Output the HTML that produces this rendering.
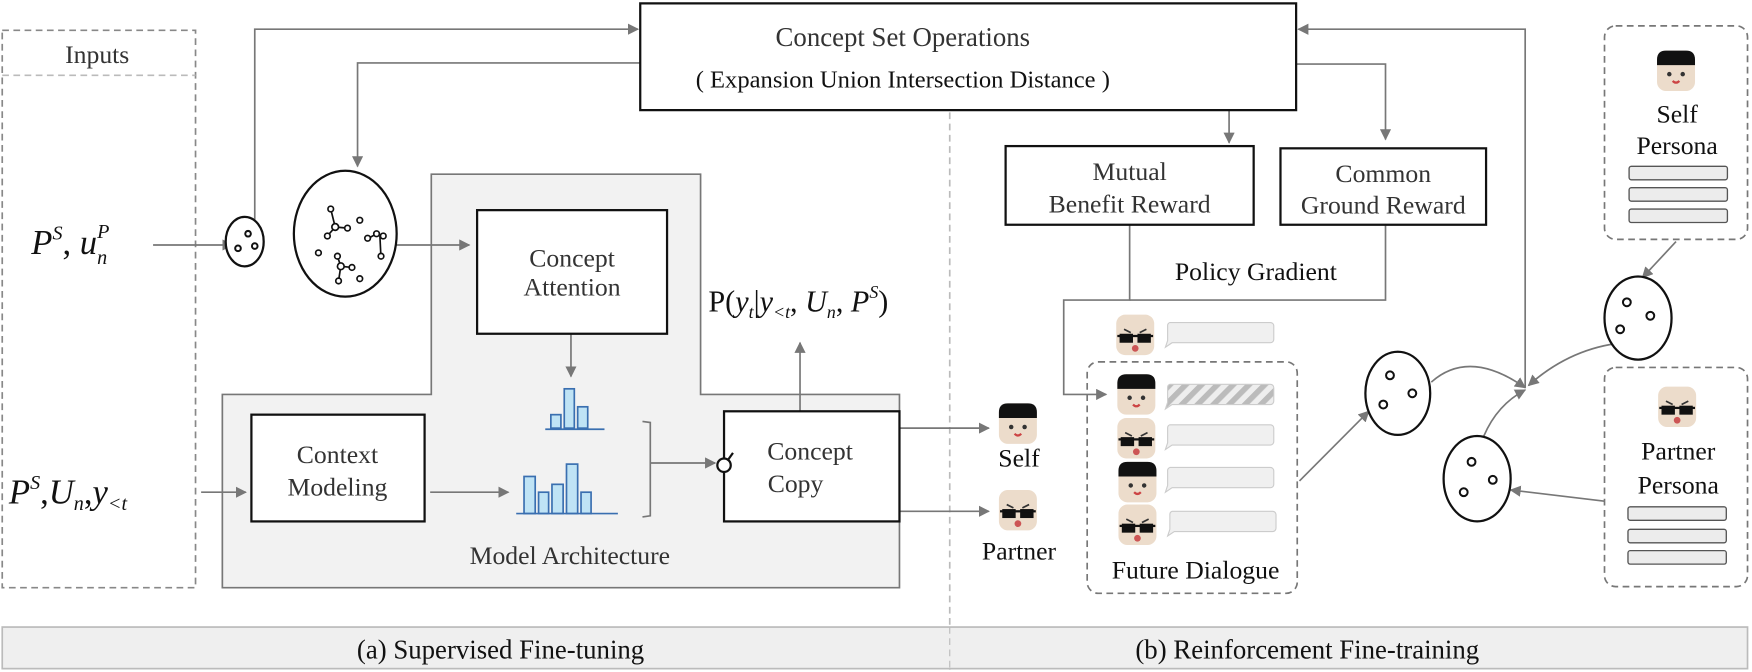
<!DOCTYPE html>
<html><head><meta charset="utf-8"><style>
html,body{margin:0;padding:0;background:#fff}
svg{display:block}
text{font-family:"Liberation Serif",serif;fill:#333}
.m{font-style:italic;fill:#111}
</style></head><body>
<svg width="1752" height="672" viewBox="0 0 1568 598" preserveAspectRatio="none" xmlns="http://www.w3.org/2000/svg">
<defs>
<marker id="a" viewBox="0 0 10 10" refX="9" refY="5" markerWidth="10" markerHeight="10" markerUnits="userSpaceOnUse" orient="auto"><path d="M0,0 L10,5 L0,10z" fill="#777"/></marker>
<pattern id="h" width="10" height="10" patternUnits="userSpaceOnUse" patternTransform="rotate(45)"><rect width="10" height="10" fill="#eee"/><rect width="5" height="10" fill="#bbb"/></pattern>
<g id="self"><rect x="-17" y="-17" width="34" height="36" rx="8" fill="#ecdccb"/><path d="M-17,-4 L-17,-9 Q-17,-17 -9,-17 L9,-17 Q17,-17 17,-9 L17,-4 Z" fill="#111"/><circle cx="-6" cy="4" r="2" fill="#333"/><circle cx="6" cy="4" r="2" fill="#333"/><path d="M-3,10 Q0,13 3,10" stroke="#c44" stroke-width="2" fill="none"/></g>
<g id="ptn"><rect x="-17" y="-17" width="34" height="36" rx="8" fill="#ecdccb"/><rect x="-14" y="0" width="12" height="8" fill="#111"/><rect x="2" y="0" width="12" height="8" fill="#111"/><rect x="-16" y="1" width="32" height="2" fill="#111"/><path d="M-10,-4 L-4,-1 M10,-4 L4,-1" stroke="#333" stroke-width="1.5"/><circle cx="0" cy="13" r="3" fill="#c55"/></g>
</defs>
<g stroke="#777" stroke-width="1.5" fill="none">
<path d="M199,351 L386,351 L386,155 L627,155 L627,351 L805,351 L805,523 L199,523 Z" fill="#f2f2f2"/>
<rect x="2" y="27" width="173" height="496" stroke-dasharray="6,4" stroke="#888"/>
<line x1="2" y1="67" x2="175" y2="67" stroke-dasharray="6,4" stroke="#bbb"/>
<line x1="850" y1="100" x2="850" y2="598" stroke-dasharray="6,4" stroke="#bbb"/>
<path d="M137,218 L208,218" marker-end="url(#a)"/>
<path d="M228,196 L228,26 L571,26" marker-end="url(#a)"/>
<path d="M573,56 L320,56 L320,148" marker-end="url(#a)"/>
<path d="M355,218 L420,218" marker-end="url(#a)"/>
<path d="M511,297 L511,335" marker-end="url(#a)"/>
<path d="M180,438 L220,438" marker-end="url(#a)"/>
<path d="M385,438 L455,438" marker-end="url(#a)"/>
<path d="M575,375 L582,376 L582,459 L575,460"/>
<path d="M582,412 L640,412" marker-end="url(#a)"/>
<path d="M716,366 L716,305" marker-end="url(#a)"/>
<path d="M805,381 L885,381" marker-end="url(#a)"/>
<path d="M805,455 L885,455" marker-end="url(#a)"/>
<path d="M1160,57 L1240,57 L1240,124" marker-end="url(#a)"/>
<path d="M1100,57 L1100,127" marker-end="url(#a)"/>
<path d="M1365,345 L1365,26 L1162,26" marker-end="url(#a)"/>
<path d="M1011,200 L1011,267 L952,267 L952,351 L990,351" marker-end="url(#a)"/>
<path d="M1240,200 L1240,267 L1011,267"/>
<path d="M1163,428 L1225,366" marker-end="url(#a)"/>
<path d="M1281,340 Q1315,310 1365,345" marker-end="url(#a)"/>
<path d="M1500,215 L1470,247" marker-end="url(#a)"/>
<path d="M1452,305 Q1405,310 1368,343" marker-end="url(#a)"/>
<path d="M1436,446 L1352,436" marker-end="url(#a)"/>
<path d="M1328,388 Q1340,360 1365,347" marker-end="url(#a)"/>
<rect x="973" y="322" width="188" height="206" rx="10" stroke-dasharray="6,4"/>
<rect x="1436" y="23" width="128" height="190" rx="10" stroke-dasharray="6,4"/>
<rect x="1436" y="327" width="128" height="195" rx="10" stroke-dasharray="6,4"/>
</g>
<g stroke="#111" stroke-width="2" fill="#fff">
<rect x="573" y="3" width="587" height="95"/>
<rect x="427" y="187" width="170" height="110"/>
<rect x="225" y="369" width="155" height="95"/>
<rect x="648" y="366" width="157" height="98"/>
<rect x="900" y="130" width="222" height="70"/>
<rect x="1146" y="132" width="184" height="68"/>
<ellipse cx="219" cy="215" rx="17" ry="22"/>
<ellipse cx="309" cy="208" rx="46" ry="56"/>
<ellipse cx="1251" cy="350" rx="29" ry="37"/>
<ellipse cx="1466" cy="283" rx="30" ry="37"/>
<ellipse cx="1322" cy="426" rx="30" ry="38"/>
<circle cx="648" cy="414" r="6"/>
<line x1="651" y1="410" x2="656" y2="403"/>
</g>
<g fill="#fff" stroke="#111" stroke-width="1.8">
<circle cx="222" cy="208" r="2.5"/><circle cx="213" cy="221" r="2.5"/><circle cx="228" cy="219" r="2.5"/>
<circle cx="1244" cy="334" r="3.5"/><circle cx="1264" cy="350" r="3.5"/><circle cx="1238" cy="360" r="3.5"/>
<circle cx="1456" cy="269" r="3.5"/><circle cx="1477" cy="281" r="3.5"/><circle cx="1450" cy="293" r="3.5"/>
<circle cx="1317" cy="411" r="3.5"/><circle cx="1336" cy="427" r="3.5"/><circle cx="1310" cy="438" r="3.5"/>
</g>
<g stroke="#111" stroke-width="1.5" fill="#fff">
<path d="M296,186 L300,202 L293,210 M300,202 L311,203 M328,213 L337,208 L343,210 M340,210 L341,230 M303,250 L305,237 L315,238 M305,237 L302,228"/>
<circle cx="296" cy="186" r="2.5"/><circle cx="300" cy="202" r="3"/><circle cx="311" cy="203" r="2.5"/><circle cx="293" cy="210" r="2.5"/>
<circle cx="337" cy="208" r="2.5"/><circle cx="329" cy="212" r="2.5"/><circle cx="343" cy="210" r="2.5"/><circle cx="341" cy="228" r="2.5"/>
<circle cx="302" cy="228" r="2.5"/><circle cx="305" cy="237" r="3"/><circle cx="315" cy="238" r="2.5"/><circle cx="303" cy="250" r="2.5"/>
<circle cx="322" cy="196" r="2.5"/><circle cx="285" cy="225" r="2.5"/><circle cx="322" cy="248" r="2.5"/>
</g>
<g fill="#bfe3f5" stroke="#3a6fb0" stroke-width="1.5">
<rect x="493" y="369" width="9" height="12"/><rect x="505" y="346" width="9" height="35"/><rect x="517" y="362" width="9" height="19"/>
<rect x="469" y="424" width="10" height="33"/><rect x="482" y="438" width="9" height="19"/><rect x="494" y="431" width="10" height="26"/><rect x="507" y="413" width="10" height="44"/><rect x="520" y="438" width="9" height="19"/>
<line x1="488" y1="382" x2="541" y2="382"/><line x1="462" y1="457" x2="553" y2="457"/>
</g>
<g fill="#ececec" stroke="#555" stroke-width="1.2">
<rect x="1458" y="148" width="88" height="12" rx="2"/><rect x="1458" y="167" width="88" height="12" rx="2"/><rect x="1458" y="186" width="88" height="12" rx="2"/>
<rect x="1457" y="451" width="88" height="12" rx="2"/><rect x="1457" y="471" width="88" height="12" rx="2"/><rect x="1457" y="490" width="88" height="12" rx="2"/>
</g>
<g fill="#f0f0f0" stroke="#ccc" stroke-width="1">
<path d="M1047,287 h90 a3,3 0 0 1 3,3 v12 a3,3 0 0 1 -3,3 h-88 l-6,4 l2,-6 v-13 a3,3 0 0 1 2,-3z"/>
<path d="M1047,342 h90 a3,3 0 0 1 3,3 v12 a3,3 0 0 1 -3,3 h-88 l-6,4 l2,-6 v-13 a3,3 0 0 1 2,-3z" fill="url(#h)"/>
<path d="M1047,378 h90 a3,3 0 0 1 3,3 v12 a3,3 0 0 1 -3,3 h-88 l-6,4 l2,-6 v-13 a3,3 0 0 1 2,-3z"/>
<path d="M1047,416 h90 a3,3 0 0 1 3,3 v12 a3,3 0 0 1 -3,3 h-88 l-6,4 l2,-6 v-13 a3,3 0 0 1 2,-3z"/>
<path d="M1049,455 h90 a3,3 0 0 1 3,3 v12 a3,3 0 0 1 -3,3 h-88 l-6,4 l2,-6 v-13 a3,3 0 0 1 2,-3z"/>
</g>
<use href="#ptn" x="1016" y="297"/>
<use href="#self" x="1017" y="350"/>
<use href="#ptn" x="1017" y="389"/>
<use href="#self" x="1018" y="428"/>
<use href="#ptn" x="1018" y="466"/>
<use href="#self" x="911" y="376"/>
<use href="#ptn" x="911" y="453"/>
<use href="#self" x="1500" y="62"/>
<use href="#ptn" x="1501" y="361"/>
<rect x="2" y="558" width="1562" height="37" fill="#efefef" stroke="#bbb" stroke-width="1.5"/>
<line x1="850" y1="558" x2="850" y2="595" stroke="#bbb" stroke-dasharray="6,4"/>
<g font-size="23" text-anchor="middle">
<text x="87" y="56">Inputs</text>
<text x="808" y="41" font-size="24">Concept Set Operations</text>
<text x="808" y="78" style="fill:#111" font-size="22">( Expansion Union Intersection Distance )</text>
<text x="512" y="237">Concept</text><text x="512" y="263">Attention</text>
<text x="302" y="412">Context</text><text x="302" y="441">Modeling</text>
<text x="725" y="409">Concept</text><text x="712" y="438">Copy</text>
<text x="510" y="502">Model Architecture</text>
<text x="1011" y="160">Mutual</text><text x="1011" y="189">Benefit Reward</text>
<text x="1238" y="162">Common</text><text x="1238" y="190">Ground Reward</text>
<text x="1124" y="249" style="fill:#111">Policy Gradient</text>
<text x="912" y="415" style="fill:#111">Self</text>
<text x="912" y="498" style="fill:#111">Partner</text>
<text x="1070" y="515" style="fill:#111">Future Dialogue</text>
<text x="1501" y="109" style="fill:#111">Self</text><text x="1501" y="137" style="fill:#111">Persona</text>
<text x="1502" y="409" style="fill:#111">Partner</text><text x="1502" y="439" style="fill:#111">Persona</text>
<text x="448" y="586" style="fill:#111" font-size="24">(a) Supervised Fine-tuning</text>
<text x="1170" y="586" style="fill:#111" font-size="24">(b) Reinforcement Fine-training</text>
</g>
<g font-size="31" class="m">
<text x="28" y="226" class="m">P<tspan font-size="18" dy="-13">S</tspan><tspan dy="13" font-style="normal">, </tspan>u<tspan font-size="18" dy="-14">P</tspan><tspan font-size="18" dx="-11" dy="23">n</tspan></text>
<text x="8" y="448" class="m">P<tspan font-size="18" dy="-13">S</tspan><tspan dy="13" font-style="normal">,</tspan>U<tspan font-size="18" dy="6">n</tspan><tspan dy="-6" font-style="normal">,</tspan>y<tspan font-size="18" dy="6">&lt;t</tspan></text>
<text x="634" y="277" font-size="27" class="m"><tspan font-style="normal">P(</tspan>y<tspan font-size="16" dy="6">t</tspan><tspan dy="-6" font-style="normal">|</tspan>y<tspan font-size="16" dy="6">&lt;t</tspan><tspan dy="-6" font-style="normal">, </tspan>U<tspan font-size="16" dy="6">n</tspan><tspan dy="-6" font-style="normal">, </tspan>P<tspan font-size="16" dy="-12">S</tspan><tspan dy="12" font-style="normal">)</tspan></text>
</g>
</svg>
</body></html>
